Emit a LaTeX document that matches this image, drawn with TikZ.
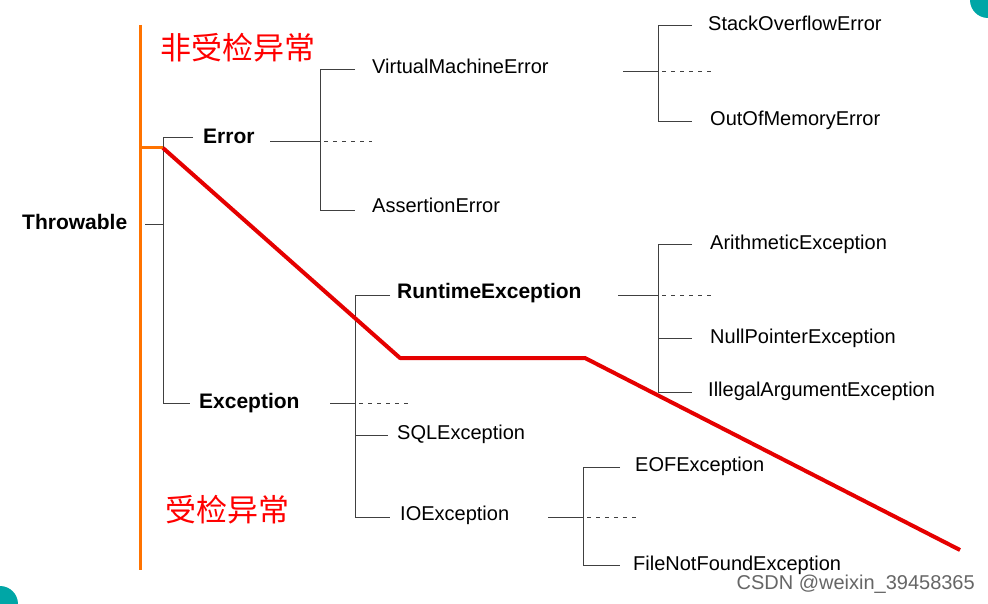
\documentclass[tikz,border=0pt]{standalone}
\usepackage{fontspec}
\setmainfont{Liberation Sans}
\newfontfamily\cjk{Noto Sans CJK SC}
\begin{document}
\begin{tikzpicture}[x=1pt,y=-1pt,
  lbl/.style={anchor=west,inner sep=0pt,font=\fontsize{20}{24}\selectfont},
  blbl/.style={lbl,font=\fontsize{21}{24}\selectfont\bfseries},
  cn/.style={anchor=west,inner sep=0pt,text=red,font=\fontsize{31}{34}\selectfont\cjk},
  tl/.style={draw=black!75,line width=1pt},
  dl/.style={draw=black!75,line width=1pt,dash pattern=on 4pt off 5pt}]
\begin{scope}
\clip (0,0) rectangle (988,604);
\fill[white] (0,0) rectangle (988,604);
\fill[teal!70!cyan] (988,0) circle[radius=18];
\fill[teal!70!cyan] (0,604) circle[radius=18];
\end{scope}
\useasboundingbox (0,0) rectangle (988,604);
% texts
\node[blbl] (thr) at (22,222) {Throwable};
\node[blbl] (err) at (203,136) {Error};
\node[blbl] (exc) at (199,403) {Exception};
\node[lbl] (vme) at (372,66) {VirtualMachineError};
\node[lbl] (ase) at (372,205) {AssertionError};
\node[lbl] (soe) at (708,23) {StackOverflowError};
\node[lbl] (oom) at (710,120) {OutOfMemoryError};
\node[blbl] (rte) at (397,293) {RuntimeException};
\node[lbl] (sql) at (397,434) {SQLException};
\node[lbl] (ioe) at (400,515) {IOException};
\node[lbl] (ari) at (710,244) {ArithmeticException};
\node[lbl] (npe) at (710,338) {NullPointerException};
\node[lbl] (iae) at (708,391) {IllegalArgumentException};
\node[lbl] (eof) at (635,466) {EOFException};
\node[lbl] (fnf) at (633,565) {FileNotFoundException};
\node[cn] (unc) at (160,48) {非受检异常};
\node[cn] (chk) at (165,510) {受检异常};
\node[anchor=east,inner sep=0pt,text=black!60,font=\fontsize{20}{22}\selectfont] (wm) at (975,584) {CSDN @weixin\_39458365};
% Throwable tree
\coordinate (t1) at (163,138); \coordinate (t2) at (163,403);
\draw[tl] (145,225) -- (163,225);
\draw[tl] (193,138) -- (t1) -- (t2) -- (190,403);
% Error tree
\draw[tl] (270,142) -- (320,142);
\draw[tl] (355,70) -- (320,70) -- (320,211) -- (355,211);
\draw[dl] (324,142) -- (372,142);
% VM tree
\draw[tl] (623,72) -- (658,72);
\draw[tl] (692,26) -- (658,26) -- (658,122) -- (692,122);
\draw[dl] (662,72) -- (712,72);
% Exception tree
\draw[tl] (330,403) -- (355,403);
\draw[dl] (359,403) -- (410,403);
\draw[tl] (390,295) -- (355,295) -- (355,517) -- (390,517);
\draw[tl] (355,435) -- (388,435);
% Runtime tree
\draw[tl] (618,295) -- (658,295);
\draw[dl] (662,295) -- (712,295);
\draw[tl] (692,245) -- (658,245) -- (658,392) -- (692,392);
\draw[tl] (658,338) -- (692,338);
% IO tree
\draw[tl] (548,517) -- (583,517);
\draw[dl] (587,517) -- (637,517);
\draw[tl] (620,467) -- (583,467) -- (583,565) -- (620,565);
% orange
\draw[orange!90!red,line width=3pt] (140,25) -- (140,570);
\draw[orange!90!red,line width=3pt] (140,148) -- (163,148);
% red
\draw[red!90!black,line width=4pt,line join=round] (163,148) -- (400,358) -- (585,358) -- (960,550);
\end{tikzpicture}
\end{document}
